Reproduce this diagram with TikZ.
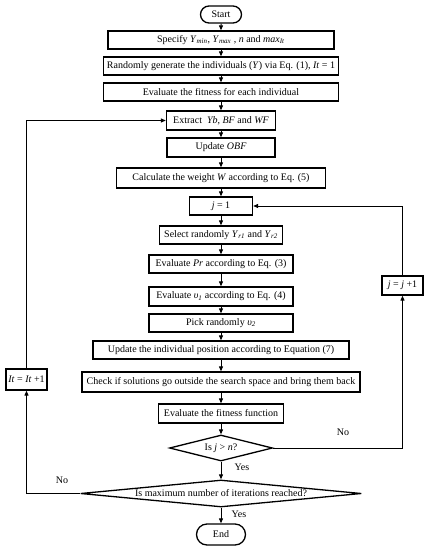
\documentclass[tikz,border=0pt]{standalone}
\usepackage{fontspec}
\setmainfont{Liberation Serif}
\usetikzlibrary{positioning,arrows.meta,shapes.geometric,shapes.misc}
\newcommand{\vsub}[2]{\textit{#1}\textsubscript{\textit{#2}}}
\tikzset{
    box font/.style={font=\fontsize{10}{12}\selectfont},
    process/.style={rectangle, draw, line width=1.3pt, inner sep=0pt, minimum height=18pt, box font},
    terminal/.style={rounded rectangle, draw, line width=1.3pt, inner sep=0pt, box font},
    decision/.style={diamond, draw, line width=1.3pt, inner sep=0pt, box font},
    flow/.style={-{Triangle[length=5pt,width=4pt]}, line width=1pt},
    branch label/.style={box font, inner sep=1pt}
}

\begin{document}
\begin{tikzpicture}[x=1pt, y=-1pt]
    \useasboundingbox (0,0) rectangle (428,550);

    % Main column
    \node[terminal, minimum width=41pt, minimum height=17pt] (start) at (221,14.5) {Start};
    \node[process, minimum width=226pt] (spec) at (221,40) {Specify \vsub{Y}{min}, \vsub{Y}{max} , \textit{n} and \vsub{max}{It}};
    \node[process, minimum width=235pt] (gen) at (221,66) {Randomly generate the individuals (\textit{Y}) via Eq. (1), \textit{It} = 1};
    \node[process, minimum width=235pt] (fit) at (221,92) {Evaluate the fitness for each individual};
    \node[process, minimum width=109pt, minimum height=19pt] (ext) at (221,120.5) {Extract \ \textit{Yb}, \textit{BF} and \textit{WF}};
    \node[process, minimum width=108pt, minimum height=19pt] (obf) at (221,147.5) {Update \textit{OBF}};
    \node[process, minimum width=209pt, minimum height=20pt] (wgt) at (221,178) {Calculate the weight \textit{W} according to Eq. (5)};

    % Inner loop over j
    \node[process, minimum width=63pt] (j1) at (221,206) {\textit{j} = 1};
    \node[process, minimum width=123pt] (sel) at (221,235) {Select randomly \vsub{Y}{r1} and \vsub{Y}{r2}};
    \node[process, minimum width=144pt] (pr) at (221,264) {Evaluate \textit{Pr} according to Eq. (3)};
    \node[process, minimum width=144pt, minimum height=19pt] (u1) at (221,296.5) {Evaluate \vsub{υ}{1} according to Eq. (4)};
    \node[process, minimum width=144pt] (u2) at (221,323) {Pick randomly \vsub{υ}{2}};
    \node[process, minimum width=256pt] (pos) at (221,350) {Update the individual position according to Equation (7)};
    \node[process, minimum width=278pt, minimum height=20pt] (chk) at (221,382) {Check if solutions go outside the search space and bring them back};
    \node[process, minimum width=125pt, minimum height=19pt] (eff) at (221,413.5) {Evaluate the fitness function};
    \node[decision, aspect=3.96, minimum width=103pt, minimum height=26pt] (d1) at (221,448) {Is \textit{j} > \textit{n}?};
    \node[decision, aspect=10.4, minimum width=281pt, minimum height=27pt] (d2) at (221,493.5) {Is maximum number of iterations reached?};
    \node[terminal, minimum width=49pt, minimum height=21pt] (end) at (221,534.5) {End};

    % Counters
    \node[process, minimum width=41pt, minimum height=19pt] (jinc) at (402.5,285.5) {\textit{j} = \textit{j} +1};
    \node[process, minimum width=41pt, minimum height=21pt] (itinc) at (26.5,379.5) {\textit{It} = \textit{It} +1};

    % Straight flow
    \foreach \a/\b in {start/spec, spec/gen, gen/fit, fit/ext, ext/obf, obf/wgt, wgt/j1,
                       j1/sel, sel/pr, pr/u1, u1/u2, u2/pos, pos/chk, chk/eff, eff/d1, d1/d2, d2/end} {
        \draw[flow] (\a) -- (\b);
    }

    % Loop back for j
    \draw[flow] (d1.east) -| (jinc.south);
    \draw[flow] (jinc.north) |- (j1.east);

    % Loop back for It
    \draw[flow] (d2.west) -| (itinc.south);
    \draw[flow] (itinc.north) |- (ext.west);

    % Branch labels
    \node[branch label] (no1) at (343,432) {No};
    \node[branch label] (yes1) at (242,467) {Yes};
    \node[branch label] (no2) at (62,480) {No};
    \node[branch label] (yes2) at (239,514) {Yes};
\end{tikzpicture}
\end{document}
